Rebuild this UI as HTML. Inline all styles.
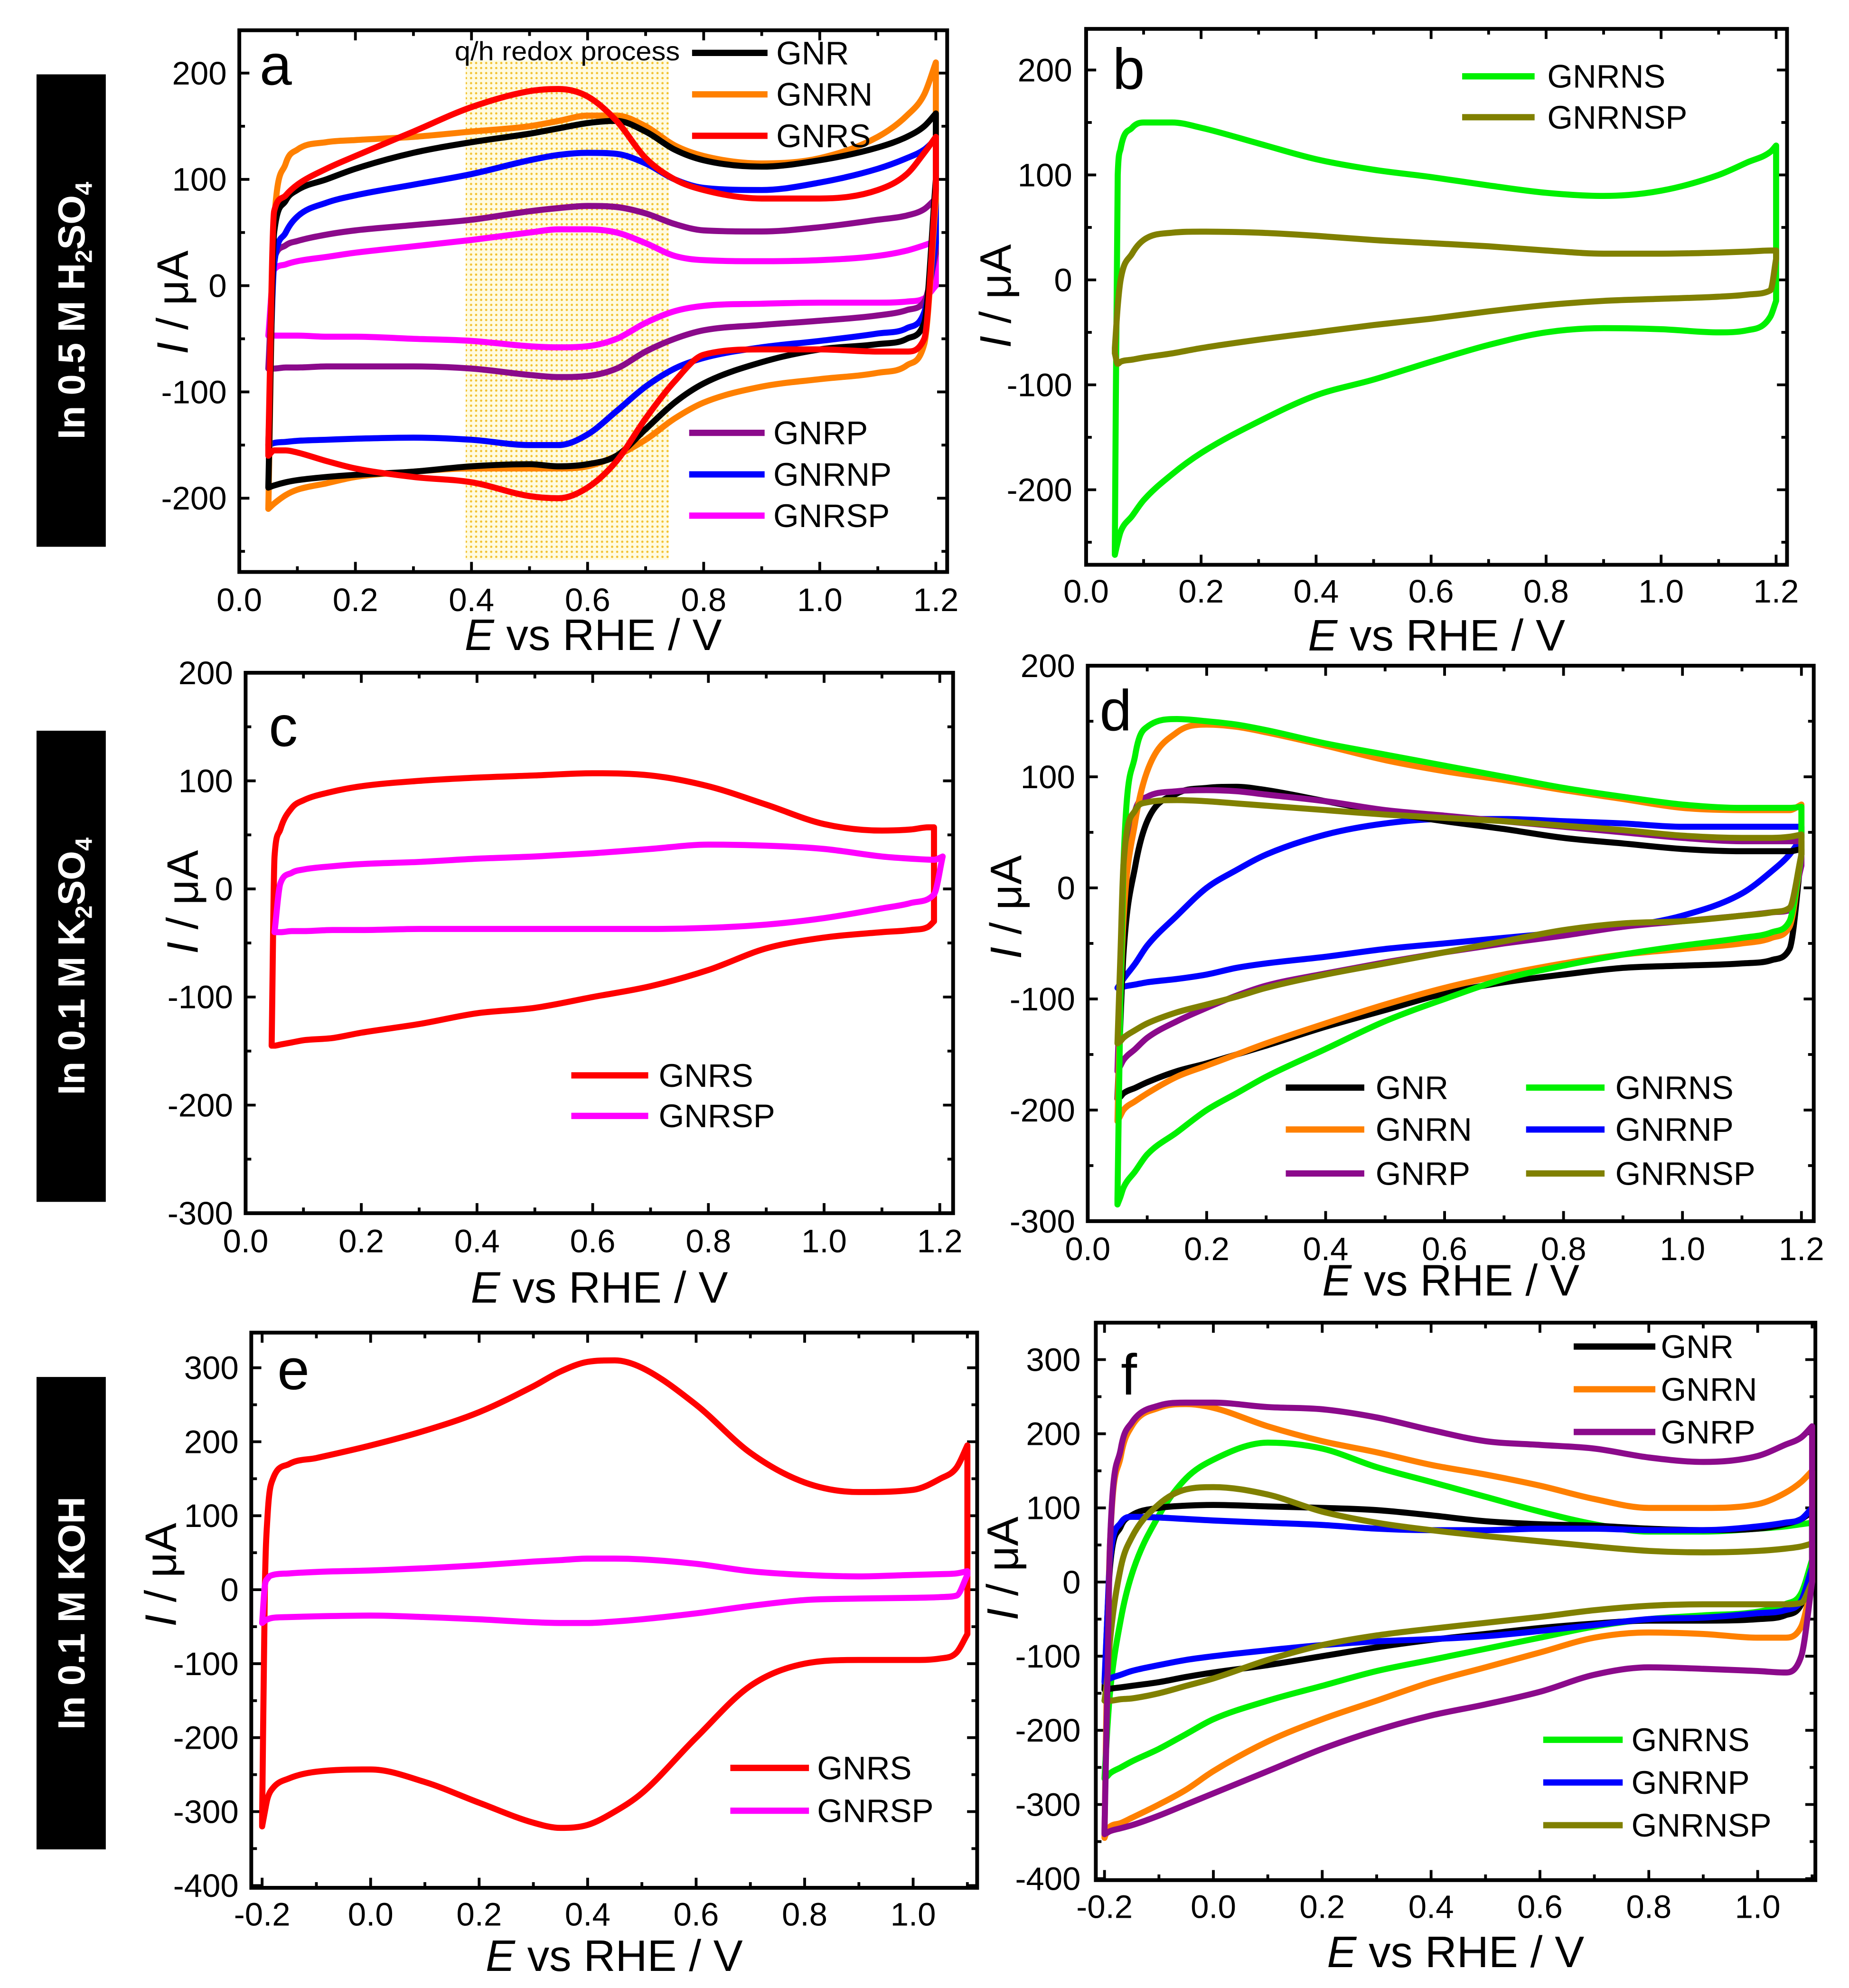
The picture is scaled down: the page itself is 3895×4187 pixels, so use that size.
<!DOCTYPE html>
<html><head><meta charset="utf-8">
<style>
html,body{margin:0;padding:0;background:#fff;}
svg{display:block;}
text{font-family:"Liberation Sans",Arial,sans-serif;}
</style></head>
<body>
<svg id="fig" xmlns="http://www.w3.org/2000/svg" width="3895" height="4187" viewBox="0 0 1468 1578">
<defs>
<pattern id="dots" width="4" height="4" patternUnits="userSpaceOnUse">
<rect width="4" height="4" fill="#fffbe0"/>
<circle cx="2" cy="2" r="0.9" fill="#f2c230"/>
</pattern>
</defs>
<g>
<rect x="29" y="59" width="55" height="375" fill="#000"/>
<text transform="translate(67,246.5) rotate(-90)" text-anchor="middle" font-size="30" font-weight="bold" fill="#fff">In 0.5 M H<tspan font-size="19" dy="6">2</tspan><tspan dy="-6">SO</tspan><tspan font-size="19" dy="6">4</tspan></text>
</g>
<g>
<rect x="29" y="580" width="55" height="374" fill="#000"/>
<text transform="translate(67,767) rotate(-90)" text-anchor="middle" font-size="30" font-weight="bold" fill="#fff">In 0.1 M K<tspan font-size="19" dy="6">2</tspan><tspan dy="-6">SO</tspan><tspan font-size="19" dy="6">4</tspan></text>
</g>
<g>
<rect x="29" y="1093" width="55" height="375" fill="#000"/>
<text transform="translate(67,1280.5) rotate(-90)" text-anchor="middle" font-size="30" font-weight="bold" fill="#fff">In 0.1 M KOH</text>
</g>
</svg>
<script>
// ---------- Panel a data ----------
const a_E = [0.05,0.06,0.08,0.1,0.15,0.2,0.3,0.4,0.5,0.55,0.6,0.65,0.7,0.75,0.8,0.9,1.0,1.1,1.15,1.18,1.2];
const a_GNR_up = [-190,50,80,90,100,110,125,135,143,148,153,155,145,128,118,112,118,130,140,150,162];
const a_GNR_dn = [-190,-188,-185,-183,-180,-178,-175,-170,-168,-170,-168,-160,-135,-110,-92,-72,-60,-55,-50,-35,100];
const a_GNRN_up = [-210,60,115,128,135,137,140,145,150,155,160,160,150,132,122,115,120,140,160,180,210];
const a_GNRN_dn = [-210,-205,-197,-192,-186,-180,-175,-172,-172,-172,-170,-160,-145,-125,-110,-95,-88,-82,-75,-55,80];
const a_GNRS_up = [-150,70,85,95,110,122,145,168,183,185,178,155,120,100,90,82,82,90,105,125,140];
const a_GNRS_dn = [-160,-155,-155,-157,-165,-172,-180,-185,-198,-200,-190,-165,-125,-90,-65,-60,-60,-62,-62,-50,90];
const a_GNRNP_up = [-150,20,50,65,78,85,95,105,118,123,125,124,115,100,92,90,97,110,120,128,138];
const a_GNRNP_dn = [-150,-148,-147,-146,-145,-144,-143,-145,-150,-150,-140,-118,-95,-78,-68,-58,-52,-45,-40,-25,40];
const a_GNRP_up = [-78,25,38,42,48,52,57,62,70,73,75,74,68,58,52,51,55,62,66,72,82];
const a_GNRP_dn = [-78,-78,-77,-77,-76,-76,-76,-78,-84,-86,-85,-78,-62,-50,-42,-37,-33,-28,-23,-15,30];
const a_GNRSP_up = [-47,15,20,23,27,31,37,43,50,53,53,50,40,28,24,23,24,28,33,38,42];
const a_GNRSP_dn = [-47,-47,-47,-47,-48,-48,-50,-52,-57,-58,-57,-50,-35,-24,-19,-17,-16,-16,-15,-12,0];
// ---------- Panel b data ----------
const b_E = [0.05,0.055,0.06,0.08,0.1,0.15,0.2,0.3,0.4,0.5,0.6,0.7,0.8,0.9,1.0,1.1,1.15,1.19,1.2];
const b_GNRNS_up = [-255,100,125,145,150,150,145,130,115,105,98,90,83,80,85,100,112,122,128];
const b_GNRNS_dn = [-262,-250,-240,-225,-210,-185,-165,-135,-110,-95,-78,-62,-50,-46,-47,-50,-48,-35,-20];
const b_GNRNSP_up = [-65,-25,0,25,38,45,46,45,42,38,35,32,28,25,25,26,27,28,28];
const b_GNRNSP_dn = [-70,-80,-78,-76,-74,-70,-65,-57,-50,-43,-37,-30,-24,-20,-18,-16,-14,-10,20];
// ---------- Panel c data ----------
const c_E = [0.045,0.05,0.06,0.08,0.1,0.15,0.2,0.3,0.4,0.5,0.6,0.7,0.8,0.9,1.0,1.1,1.15,1.18,1.19];
const c_GNRS_up = [-145,30,55,75,82,90,95,100,103,105,107,105,95,78,60,54,55,57,57];
const c_GNRS_dn = [-145,-145,-144,-142,-140,-138,-133,-125,-115,-110,-100,-90,-75,-55,-45,-40,-38,-35,-30];
const c_E2 = [0.05,0.06,0.08,0.1,0.15,0.2,0.3,0.4,0.5,0.6,0.7,0.8,0.9,1.0,1.1,1.15,1.19,1.205];
const c_GNRSP_up = [-40,5,15,18,21,23,25,28,30,33,37,41,40,37,30,28,27,30];
const c_GNRSP_dn = [-40,-40,-39,-39,-38,-38,-37,-37,-37,-37,-37,-36,-33,-27,-18,-13,-5,30];
// ---------- Panel d data ----------
const d_E = [0.05,0.055,0.06,0.08,0.1,0.15,0.2,0.25,0.3,0.4,0.5,0.6,0.7,0.8,0.9,1.0,1.1,1.15,1.18,1.2];
const d_GNR_up = [-190,-120,-60,20,60,85,90,91,88,78,68,60,53,45,40,35,33,33,33,35];
const d_GNR_dn = [-190,-188,-185,-180,-175,-165,-158,-150,-142,-125,-110,-95,-85,-78,-72,-70,-68,-65,-55,30];
const d_GNRN_up = [-210,-100,-30,60,105,140,147,145,140,128,115,105,97,88,80,72,70,70,70,75];
const d_GNRN_dn = [-210,-205,-200,-192,-185,-170,-160,-150,-140,-122,-105,-90,-78,-68,-60,-55,-50,-45,-35,30];
const d_GNRP_up = [-165,-80,0,70,82,87,88,87,84,78,70,65,60,55,50,45,42,42,42,42];
const d_GNRP_dn = [-165,-160,-155,-145,-135,-120,-108,-97,-88,-77,-67,-58,-50,-43,-35,-30,-25,-22,-20,20];
const d_GNRNS_up = [-280,-100,20,120,145,152,150,147,142,130,120,110,100,90,82,75,72,72,72,73];
const d_GNRNS_dn = [-285,-278,-270,-255,-240,-220,-200,-185,-170,-145,-120,-100,-82,-70,-60,-52,-45,-40,-30,30];
const d_GNRNP_up = [-90,-86,-82,-68,-52,-25,0,16,30,48,58,62,62,60,58,55,55,55,55,55];
const d_GNRNP_dn = [-90,-90,-89,-87,-85,-82,-78,-72,-68,-62,-55,-50,-45,-40,-35,-25,-5,15,30,45];
const d_GNRNSP_up = [-140,-60,20,70,77,79,78,76,74,70,66,63,60,56,52,47,45,45,46,48];
const d_GNRNSP_dn = [-140,-138,-135,-128,-122,-112,-105,-98,-90,-78,-68,-58,-48,-38,-32,-30,-25,-22,-18,30];
// ---------- Panel e data ----------
const e_E = [-0.2,-0.195,-0.19,-0.18,-0.15,-0.1,0.0,0.1,0.2,0.3,0.35,0.4,0.45,0.5,0.6,0.7,0.8,0.9,1.0,1.05,1.08,1.1];
const e_GNRS_up = [-310,0,100,150,170,178,195,215,240,275,295,308,310,300,250,185,145,132,135,150,165,195];
const e_GNRS_dn = [-320,-300,-282,-268,-255,-246,-243,-260,-288,-315,-322,-318,-300,-275,-200,-130,-100,-95,-95,-93,-85,-60];
const e_GNRSP_up = [-45,5,15,20,22,24,26,29,33,38,40,42,42,41,35,25,20,18,20,21,22,25];
const e_GNRSP_dn = [-45,-42,-40,-38,-37,-36,-35,-37,-40,-44,-45,-45,-43,-40,-32,-22,-14,-12,-11,-10,-8,20];
// ---------- Panel f data ----------
const f_E = [-0.2,-0.195,-0.19,-0.17,-0.15,-0.1,-0.05,0.0,0.1,0.2,0.3,0.4,0.5,0.6,0.7,0.8,0.9,1.0,1.05,1.08,1.1];
const f_GNR_up = [-145,-50,20,75,90,100,103,104,102,100,97,90,82,78,76,72,70,72,78,85,95];
const f_GNR_dn = [-145,-145,-144,-142,-140,-135,-128,-122,-112,-100,-88,-78,-70,-62,-56,-52,-52,-50,-45,-30,20];
const f_GNRN_up = [-345,-100,50,170,210,235,240,235,210,190,175,158,145,130,112,100,100,105,120,135,150];
const f_GNRN_dn = [-345,-335,-330,-325,-318,-300,-280,-255,-215,-185,-160,-135,-115,-95,-75,-68,-70,-75,-75,-60,0];
const f_GNRP_up = [-335,-150,50,180,215,238,242,242,236,233,222,205,190,185,180,168,162,170,185,195,210];
const f_GNRP_dn = [-340,-338,-336,-332,-328,-315,-300,-285,-255,-225,-200,-180,-165,-148,-125,-115,-117,-120,-122,-100,0];
const f_GNRNS_up = [-265,-200,-150,-50,10,90,140,165,188,180,155,135,115,95,78,68,68,72,75,78,80];
const f_GNRNS_dn = [-265,-262,-258,-250,-242,-225,-205,-185,-160,-140,-120,-105,-90,-75,-60,-50,-45,-40,-30,-15,30];
const f_GNRNP_up = [-135,-50,30,80,88,87,85,83,80,77,72,70,70,72,72,70,70,75,80,85,100];
const f_GNRNP_dn = [-135,-132,-130,-125,-120,-112,-105,-100,-92,-85,-80,-77,-73,-66,-58,-50,-48,-42,-38,-25,20];
const f_GNRNSP_up = [-160,-130,-80,20,60,105,125,128,118,95,80,70,62,55,48,42,40,42,45,48,52];
const f_GNRNSP_dn = [-160,-160,-160,-158,-157,-150,-140,-130,-105,-85,-72,-63,-55,-47,-38,-32,-30,-30,-30,-28,0];
// ---------- tick labels ----------
const xTicksA = [0,0.2,0.4,0.6,0.8,1.0,1.2];
const xTicksE = [-0.2,0,0.2,0.4,0.6,0.8,1.0];
const yTicksAB = [-200,-100,0,100,200];
const yTicksCD = [-300,-200,-100,0,100,200];
const yTicksEF = [-400,-300,-200,-100,0,100,200,300];

const COL = {GNR:'#000000',GNRN:'#ff8000',GNRS:'#ff0000',GNRP:'#8b0a8b',GNRNP:'#0000ff',GNRSP:'#ff00ff',GNRNS:'#00f000',GNRNSP:'#808000'};
const NS = 'http://www.w3.org/2000/svg';
const svg = document.getElementById('fig');

function mk(tag, attrs, parent){
  const el = document.createElementNS(NS, tag);
  for (const k in attrs) el.setAttribute(k, attrs[k]);
  (parent||svg).appendChild(el);
  return el;
}

const P = {
 a:{x0:190,x1:752,y0:24,y1:454,xmin:0,xmax:1.2195,ymin:-269.4,ymax:240.3,xt:xTicksA,yt:yTicksAB,ylOff:53,ylCy:240,ytOff:10,tbOff:31,ttOff:62},
 b:{x0:862.3,x1:1418.8,y0:22.9,y1:448.3,xmin:0,xmax:1.219,ymin:-271.5,ymax:239.2,xt:xTicksA,yt:yTicksAB,ylOff:72,ylCy:235,ytOff:11,tbOff:30,ttOff:68},
 c:{x0:195,x1:756.7,y0:534,y1:963,xmin:0,xmax:1.223,ymin:-300,ymax:200,xt:xTicksA,yt:yTicksCD,ylOff:50,ylCy:716,ytOff:10,tbOff:31,ttOff:71},
 d:{x0:863.6,x1:1440,y0:528.4,y1:969.3,xmin:0,xmax:1.2207,ymin:-300,ymax:200,xt:xTicksA,yt:yTicksCD,ylOff:65,ylCy:720,ytOff:10,tbOff:31,ttOff:59},
 e:{x0:199.5,x1:775.8,y0:1057.8,y1:1498.5,xmin:-0.22,xmax:1.118,ymin:-403,ymax:347.5,xt:xTicksE,yt:yTicksEF,ylOff:72,ylCy:1250,ytOff:10,tbOff:30,ttOff:66},
 f:{x0:870,x1:1441.3,y0:1049.9,y1:1492.4,xmin:-0.216,xmax:1.106,ymin:-402,ymax:349.8,xt:xTicksE,yt:yTicksEF,ylOff:74,ylCy:1245,ytOff:12,tbOff:30,ttOff:69}
};
function sx(p,v){return p.x0+(v-p.xmin)/(p.xmax-p.xmin)*(p.x1-p.x0);}
function sy(p,v){return p.y1-(v-p.ymin)/(p.ymax-p.ymin)*(p.y1-p.y0);}
function fmtX(v){return v.toFixed(1);}

function axes(key){
  const p = P[key];
  const g = mk('g',{});
  
  
  const step = 0.1;
  for (let v = Math.ceil(p.xmin/step)*step; v <= p.xmax+1e-9; v += step) {
    const vv = Math.round(v*10)/10;
    const major = Math.abs(Math.round(vv*5) - vv*5) < 1e-6;
    const L = major ? 8 : 4.5;
    const X = sx(p, vv);
    mk('line',{x1:X,x2:X,y1:p.y1,y2:p.y1-L,stroke:'#000','stroke-width':2.2},g);
    mk('line',{x1:X,x2:X,y1:p.y0,y2:p.y0+L,stroke:'#000','stroke-width':2.2},g);
  }
  for (let v = Math.ceil(p.ymin/50)*50; v <= p.ymax; v += 50) {
    const major = v % 100 === 0;
    const L = major ? 8 : 4.5;
    const Y = sy(p, v);
    mk('line',{x1:p.x0,x2:p.x0+L,y1:Y,y2:Y,stroke:'#000','stroke-width':2.2},g);
    mk('line',{x1:p.x1,x2:p.x1-L,y1:Y,y2:Y,stroke:'#000','stroke-width':2.2},g);
  }
  mk('rect',{x:p.x0,y:p.y0,width:p.x1-p.x0,height:p.y1-p.y0,fill:'none',stroke:'#000','stroke-width':3},g);
  p.xt.forEach(v => {
    const t = mk('text',{x:sx(p,v),y:p.y1+p.tbOff,'font-size':26,'text-anchor':'middle'},g);
    
    
    t.textContent = fmtX(v);
  });
  p.yt.forEach(v => {
    const t = mk('text',{x:p.x0-p.ytOff,y:sy(p,v)+9,'font-size':26,'text-anchor':'end'},g);
    
    
    t.textContent = String(v);
  });
  const xt = mk('text',{x:(p.x0+p.x1)/2,y:p.y1+p.ttOff,'font-size':35,'text-anchor':'middle'},g);
  
  
  xt.innerHTML = '<tspan font-style="italic">E</tspan> vs RHE / V';
  const cx = p.x0 - p.ylOff, cy = p.ylCy;
  const yt = mk('text',{transform:'translate('+cx+','+cy+') rotate(-90)','font-size':35,'text-anchor':'middle','dominant-baseline':'central'},g);
  
  
  yt.innerHTML = '<tspan font-style="italic">I</tspan> / \u03bcA';
}

function monoSegs(pts){
  const n = pts.length, segs = [];
  const m = [], t = [];
  for (let i=0;i<n-1;i++){ const dx = pts[i+1][0]-pts[i][0]; m.push((pts[i+1][1]-pts[i][1])/(dx||1e-6)); }
  t[0]=m[0]; t[n-1]=m[n-2];
  for (let i=1;i<n-1;i++){
    if (m[i-1]*m[i] <= 0) t[i]=0;
    else {
      let tt=(m[i-1]+m[i])/2;
      const a=tt/m[i-1], b=tt/m[i], s=a*a+b*b;
      if (s>9){ tt = tt*3/Math.sqrt(s); }
      t[i]=tt;
    }
  }
  for (let i=0;i<n-1;i++){
    const [x0,y0]=pts[i],[x1,y1]=pts[i+1],h=(x1-x0)/3;
    segs.push([[x0,y0],[x0+h,y0+t[i]*h],[x1-h,y1-t[i+1]*h],[x1,y1]]);
  }
  return segs;
}
function f2(v){return v.toFixed(2);}

function loop(key, name, E, up, dn){
  const p = P[key];
  const U = E.map((e,i)=>[sx(p,e), sy(p,up[i])]);
  const D = E.map((e,i)=>[sx(p,e), sy(p,dn[i])]);
  const su = monoSegs(U), sd = monoSegs(D);
  let d = 'M'+f2(U[0][0])+' '+f2(U[0][1]);
  su.forEach(s=>{ d += 'C'+f2(s[1][0])+' '+f2(s[1][1])+' '+f2(s[2][0])+' '+f2(s[2][1])+' '+f2(s[3][0])+' '+f2(s[3][1]); });
  const last = D[D.length-1];
  d += 'L'+f2(last[0])+' '+f2(last[1]);
  for (let i=sd.length-1;i>=0;i--){ const s=sd[i]; d += 'C'+f2(s[2][0])+' '+f2(s[2][1])+' '+f2(s[1][0])+' '+f2(s[1][1])+' '+f2(s[0][0])+' '+f2(s[0][1]); }
  d += 'Z';
  const path = mk('path',{d:d,fill:'none',stroke:COL[name],'stroke-width':4.8,'stroke-linejoin':'round'});
  
  
}

function legend(key, name, xa, xb, xt, yv){
  const p = P[key];
  const g = mk('g',{});
  
  
  const Y = sy(p,yv);
  mk('line',{x1:sx(p,xa),x2:sx(p,xb),y1:Y,y2:Y,stroke:COL[name],'stroke-width':5},g);
  const t = mk('text',{x:sx(p,xt),y:Y+9,'font-size':26},g);
  t.textContent = name;
}

function letter(key, ch, xv, yv){
  const p = P[key];
  const t = mk('text',{x:sx(p,xv),y:sy(p,yv),'font-size':46});
  
  
  t.textContent = ch;
}

(function(){
  const p = P.a;
  const r = mk('rect',{x:sx(p,0.39),y:sy(p,212),width:sx(p,0.74)-sx(p,0.39),height:sy(p,-258)-sy(p,212),fill:'url(#dots)'});
  
  
  const t = mk('text',{x:sx(p,0.371),y:sy(p,212),'font-size':21,textLength:sx(p,0.759)-sx(p,0.371),lengthAdjust:'spacingAndGlyphs'});
  
  
  t.textContent = 'q/h redox process';
})();

['a','b','c','d','e','f'].forEach(axes);

loop('a','GNRSP',a_E,a_GNRSP_up,a_GNRSP_dn);
loop('a','GNRP',a_E,a_GNRP_up,a_GNRP_dn);
loop('a','GNRNP',a_E,a_GNRNP_up,a_GNRNP_dn);
loop('a','GNRN',a_E,a_GNRN_up,a_GNRN_dn);
loop('a','GNR',a_E,a_GNR_up,a_GNR_dn);
loop('a','GNRS',a_E,a_GNRS_up,a_GNRS_dn);

loop('b','GNRNS',b_E,b_GNRNS_up,b_GNRNS_dn);
loop('b','GNRNSP',b_E,b_GNRNSP_up,b_GNRNSP_dn);

loop('c','GNRS',c_E,c_GNRS_up,c_GNRS_dn);
loop('c','GNRSP',c_E2,c_GNRSP_up,c_GNRSP_dn);

loop('d','GNRNP',d_E,d_GNRNP_up,d_GNRNP_dn);
loop('d','GNR',d_E,d_GNR_up,d_GNR_dn);
loop('d','GNRP',d_E,d_GNRP_up,d_GNRP_dn);
loop('d','GNRN',d_E,d_GNRN_up,d_GNRN_dn);
loop('d','GNRNS',d_E,d_GNRNS_up,d_GNRNS_dn);
loop('d','GNRNSP',d_E,d_GNRNSP_up,d_GNRNSP_dn);

loop('e','GNRS',e_E,e_GNRS_up,e_GNRS_dn);
loop('e','GNRSP',e_E,e_GNRSP_up,e_GNRSP_dn);

loop('f','GNRN',f_E,f_GNRN_up,f_GNRN_dn);
loop('f','GNRNS',f_E,f_GNRNS_up,f_GNRNS_dn);
loop('f','GNR',f_E,f_GNR_up,f_GNR_dn);
loop('f','GNRNP',f_E,f_GNRNP_up,f_GNRNP_dn);
loop('f','GNRNSP',f_E,f_GNRNSP_up,f_GNRNSP_dn);
loop('f','GNRP',f_E,f_GNRP_up,f_GNRP_dn);

legend('a','GNR',0.78,0.91,0.925,219);
legend('a','GNRN',0.78,0.91,0.925,180);
legend('a','GNRS',0.78,0.91,0.925,141);
legend('a','GNRP',0.775,0.905,0.92,-138.5);
legend('a','GNRNP',0.775,0.905,0.92,-177.6);
legend('a','GNRSP',0.775,0.905,0.92,-216.4);

legend('b','GNRNS',0.654,0.78,0.802,194);
legend('b','GNRNSP',0.654,0.78,0.802,155);

legend('c','GNRS',0.563,0.696,0.714,-172.5);
legend('c','GNRSP',0.563,0.696,0.714,-210);

legend('d','GNR',0.333,0.465,0.484,-179.8);
legend('d','GNRN',0.333,0.465,0.484,-217.5);
legend('d','GNRP',0.333,0.465,0.484,-257.1);
legend('d','GNRNS',0.737,0.869,0.887,-179.8);
legend('d','GNRNP',0.737,0.869,0.887,-217.5);
legend('d','GNRNSP',0.737,0.869,0.887,-257.1);

legend('e','GNRS',0.663,0.808,0.823,-240.9);
legend('e','GNRSP',0.663,0.808,0.823,-298.8);

legend('f','GNR',0.662,0.812,0.822,317.6);
legend('f','GNRN',0.662,0.812,0.822,260);
legend('f','GNRP',0.662,0.812,0.822,202.4);
legend('f','GNRNS',0.606,0.752,0.768,-212.7);
legend('f','GNRNP',0.606,0.752,0.768,-270.3);
legend('f','GNRNSP',0.606,0.752,0.768,-327.9);

letter('a','a',0.035,189);
letter('b','b',0.046,182);
letter('c','c',0.04,132);
letter('d','d',0.02,142);
letter('e','e',-0.172,271);
letter('f','f',-0.17,253);
</script>
</body></html>
